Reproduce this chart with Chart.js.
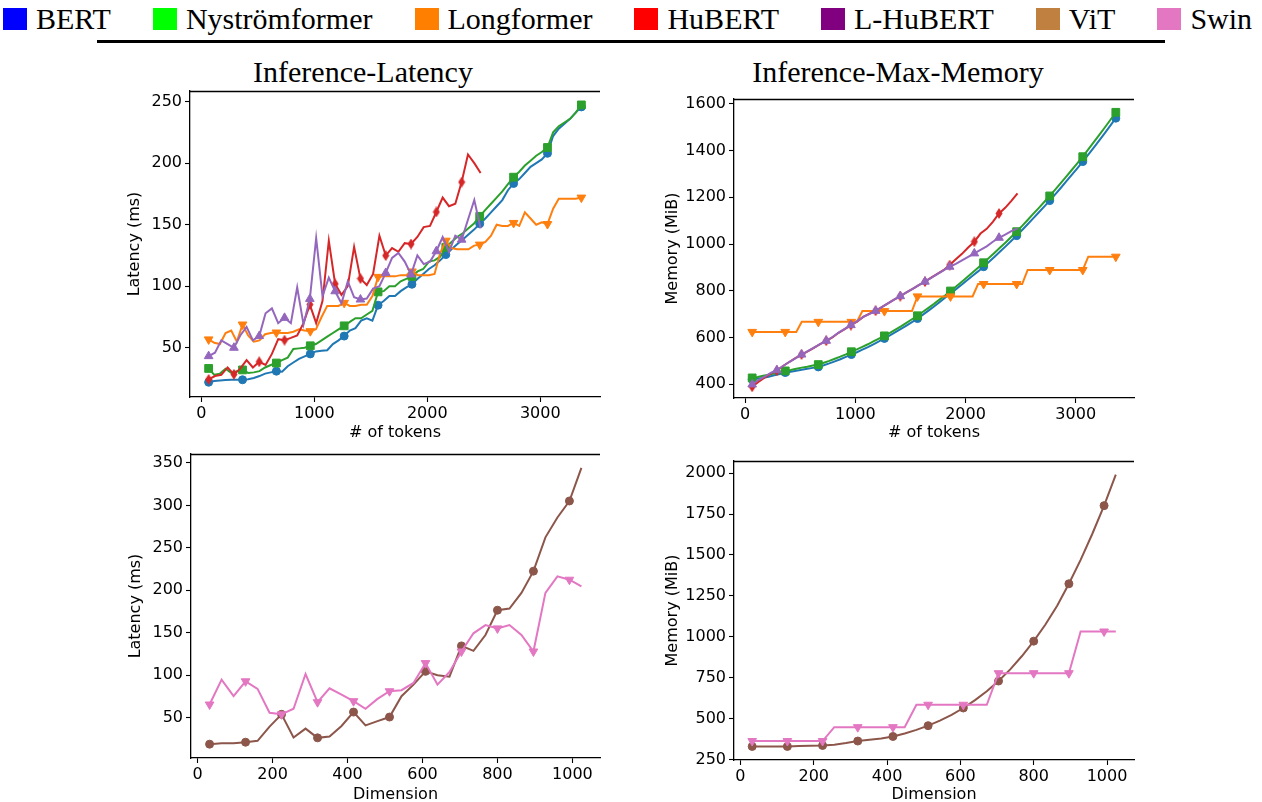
<!DOCTYPE html>
<html>
<head>
<meta charset="utf-8">
<script src="https://cdn.jsdelivr.net/npm/chart.js@4.4.1/dist/chart.umd.min.js"></script>
<style>
  body { margin: 0; width: 1262px; height: 802px; background: #fff; position: relative; overflow: hidden;
         font-family: "Liberation Serif", "Times New Roman", serif; color: #000; }
  #legend { position: absolute; left: 3px; top: 4px; display: flex; gap: 42px; }
  .item { display: flex; align-items: center; }
  .sw { width: 24px; height: 22px; margin-right: 9px; }
  .lt { font-size: 30px; line-height: 30px; white-space: nowrap; }
  .rule { position: absolute; left: 97px; top: 40px; width: 1068px; height: 3px; background: #000; }
  .ttl { position: absolute; font-size: 30px; line-height: 30px; white-space: nowrap; transform: translateX(-50%); }
  canvas { position: absolute; }
</style>
</head>
<body>
<div id="legend"></div>
<div class="rule"></div>
<div class="ttl" style="left:363px; top:57px;">Inference-Latency</div>
<div class="ttl" style="left:898px; top:57px;">Inference-Max-Memory</div>
<canvas id="latText"></canvas>
<canvas id="memText"></canvas>
<canvas id="latVision"></canvas>
<canvas id="memVision"></canvas>
<script>
// --- DATA ---
const legendNames = ['BERT', 'Nyströmformer', 'Longformer', 'HuBERT', 'L-HuBERT', 'ViT', 'Swin'];
const legendColors = ['#0000ff', '#00ff00', '#ff8000', '#ff0000', '#800080', '#c08040', '#e377c2'];

const textTokens = [64, 114, 164, 214, 264, 314, 364, 414, 464, 514, 564, 614, 664, 714, 764, 814, 864, 914, 964, 1014,
  1064, 1114, 1164, 1214, 1264, 1314, 1364, 1414, 1464, 1514, 1564, 1614, 1664, 1714, 1764, 1814, 1864, 1914, 1964, 2014,
  2064, 2114, 2164, 2214, 2264, 2314, 2364, 2414, 2464, 2514, 2564, 2614, 2664, 2714, 2764, 2814, 2864, 2914, 2964, 3014,
  3064, 3114, 3164, 3214, 3264, 3314, 3364];
const audioTokens = [64, 120, 176, 232, 288, 344, 400, 456, 512, 568, 624, 680, 736, 792, 848, 904, 960, 1016, 1072, 1128,
  1184, 1240, 1296, 1352, 1408, 1464, 1520, 1576, 1632, 1688, 1744, 1800, 1856, 1912, 1968, 2024, 2080, 2136, 2192, 2248,
  2304, 2360, 2416, 2472];
const dims = [32, 64, 96, 128, 160, 192, 224, 256, 288, 320, 352, 384, 416, 448, 480, 512, 544, 576, 608, 640,
  672, 704, 736, 768, 800, 832, 864, 896, 928, 960, 992, 1024];

const bertLatency = [22, 23, 23.5, 23.8, 24, 24, 24, 24.5, 25.5, 27, 29, 30, 31, 30.5, 35, 38, 41, 43, 45, 47,
  47.5, 48, 53, 56, 59.5, 64, 66, 72, 74, 72, 84.6, 88, 92, 92, 96, 99, 101.6, 106, 110, 114,
  117, 121, 125.7, 130, 134, 138, 142, 146, 150.8, 155, 160, 165, 170, 178, 183.5, 187, 192, 197, 200, 203,
  208, 222, 228, 232, 236, 241, 245.7];
const nystromLatency = [33.2, 28, 29, 33, 29.5, 31, 32, 29.5, 30, 31, 34, 36, 37.6, 40, 42, 49, 49.5, 50, 51.6, 53,
  56, 59, 62, 65, 67.8, 71, 74, 74, 77, 80, 95.4, 96, 100, 100, 104, 106, 108, 112, 114, 120,
  121, 124, 131.6, 136, 140, 143, 147, 151, 156.8, 162, 167, 172, 177, 183, 188.6, 193, 198, 202, 206, 209,
  212.7, 225, 230, 233, 236, 241, 247.3];
const longformerLatency = [56.8, 54, 53, 62, 64, 55, 68.9, 60, 55, 56, 61, 62, 62.4, 62, 62, 63, 65, 64, 63.5, 65,
  75, 84, 84, 84, 86.5, 84, 84, 85, 85, 92, 107.6, 108, 108, 108, 109, 109, 112, 109, 109, 109,
  110, 127, 137, 131, 130, 130, 130, 133, 133.8, 136, 141, 150, 149, 149, 151.4, 149, 160, 155, 150, 152,
  150.5, 163, 171, 171, 171, 171, 172];
const hubertLatency = [24.3, 27, 28, 34, 28.4, 33, 40, 34, 38.6, 36, 45, 57, 56.2, 58, 60, 70, 85.1, 70, 88, 137,
  101.9, 93, 100, 132, 106.2, 101, 110, 141, 124.9, 131, 128, 135, 134.3, 140, 148, 149, 160.3, 172, 165, 167,
  184.6, 207, 200, 192];
const lhubertLatency = [43.2, 46, 56, 53, 50, 60, 67, 56, 59.5, 78, 82, 70, 74.3, 70, 99, 69, 89.7, 139, 92, 107,
  95.9, 86, 104, 91, 89.2, 90, 98, 100, 110.8, 123, 127, 120, 109.5, 125, 118, 120, 128.4, 140, 128, 141,
  137.8, 154, 170, 147];

const bertMemory = [421, 424, 428, 432, 438, 444, 450, 453, 458, 462, 466, 470, 474, 481, 489, 498, 507, 517, 527, 537,
  548, 559, 571, 583, 596, 609, 623, 637, 651, 666, 681, 698, 715, 733, 751, 770, 789, 807, 826, 845,
  864, 883, 903, 924, 946, 968, 990, 1013, 1036, 1060, 1085, 1110, 1135, 1160, 1186, 1213, 1240, 1268, 1296, 1324,
  1353, 1383, 1413, 1444, 1475, 1507, 1539];
const nystromMemory = [427, 431, 436, 441, 446, 452, 457, 461, 466, 471, 475, 480, 484, 492, 500, 509, 518, 528, 539, 549,
  560, 571, 583, 595, 607, 620, 634, 648, 663, 678, 693, 710, 727, 744, 762, 780, 799, 818, 838, 858,
  878, 899, 920, 941, 963, 985, 1007, 1030, 1053, 1078, 1103, 1129, 1154, 1180, 1206, 1233, 1261, 1289, 1317, 1345,
  1374, 1405, 1436, 1467, 1499, 1531, 1564];
const longformerMemory = [624, 624, 624, 624, 624, 624, 624, 624, 624,
  667, 667, 667, 667, 667, 667, 667, 667, 667, 667, 667,
  713, 713, 713, 713, 713, 713, 713, 713, 713, 713,
  776, 776, 776, 776, 776, 776, 776, 776, 776, 776, 776,
  829, 829, 829, 829, 829, 829, 829, 829, 829,
  889, 889, 889, 889, 889, 889, 889, 889, 889, 889, 889,
  946, 946, 946, 946, 946, 946];
const hubertMemory = [389, 410, 428, 445, 458, 478, 495, 512, 527, 541, 556, 572, 586, 600, 620, 636, 653, 668, 688, 702,
  714, 730, 746, 762, 777, 793, 808, 824, 839, 856, 872, 888, 910, 935, 958, 985, 1010, 1045, 1065, 1095,
  1131, 1155, 1185, 1217];
const lhubertMemory = [399, 418, 432, 448, 460, 478, 495, 511, 527, 542, 557, 572, 586, 602, 621, 637, 653, 670, 688, 700,
  714, 730, 746, 762, 777, 793, 808, 824, 839, 855, 871, 887, 903, 915, 930, 945, 960, 975, 990, 1010,
  1027, 1040, 1055, 1067];

const vitLatency = [18.9, 20, 20, 21.2, 22.8, 39.5, 54, 26.7, 37.2, 26.3, 27.8, 40.3, 56.7, 41, 46, 50.8, 75.4, 89, 104.6, 100,
  98.3, 134.6, 128.7, 147.4, 176.6, 178.6, 197, 222.6, 262.4, 285.7, 305.2, 344.2];
const swinLatency = [65.6, 94.8, 75.4, 92.9, 84, 55.9, 54, 60.6, 101.5, 68.3, 84.7, 77.3, 69.5, 60.6, 72.2, 81.2, 82.4, 91, 114.3, 89,
  103.8, 128, 149.4, 159.1, 155.2, 159.1, 147.4, 128, 197, 216.4, 212.5, 204.7];
const vitMemory = [329, 329, 329, 329, 331, 333, 335, 340, 350, 362, 370, 378, 390, 408, 430, 456, 487, 522, 564, 612,
  667, 729, 800, 882, 973, 1075, 1190, 1324, 1470, 1630, 1802, 1992];
const swinMemory = [362, 362, 362, 362, 362, 362, 362, 447, 447, 447, 447, 447, 447, 447,
  584, 584, 584, 584, 584, 584, 584, 777, 777, 777, 777, 777, 777, 777, 1032, 1032, 1032, 1032];

const tokenTicks = [0, 1000, 2000, 3000];
const dimTicks = [0, 200, 400, 600, 800, 1000];
const latTextTicks = [50, 100, 150, 200, 250];
const memTextTicks = [400, 600, 800, 1000, 1200, 1400, 1600];
const latVisionTicks = [50, 100, 150, 200, 250, 300, 350];
const memVisionTicks = [250, 500, 750, 1000, 1250, 1500, 1750, 2000];

// --- LEGEND ---
const legendEl = document.getElementById('legend');
legendNames.forEach((name, i) => {
    const item = document.createElement('div');
    item.className = 'item';
    item.innerHTML = `<div class="sw" style="background:${legendColors[i]}"></div><span class="lt">${name}</span>`;
    legendEl.appendChild(item);
});

// --- MARKERS ---
const C = { blue: '#1f77b4', orange: '#ff7f0e', green: '#2ca02c', red: '#d62728', purple: '#9467bd', brown: '#8c564b', pink: '#e377c2' };

const thinDiamond = document.createElement('canvas');
thinDiamond.width = 8;
thinDiamond.height = 11;
const dctx = thinDiamond.getContext('2d');
dctx.fillStyle = C.red;
dctx.beginPath();
dctx.moveTo(4, 0); dctx.lineTo(7.5, 5.5); dctx.lineTo(4, 11); dctx.lineTo(0.5, 5.5);
dctx.closePath();
dctx.fill();

const series = (label, xs, ys, color, style, radius, every, rotation = 0) => ({
    label,
    data: xs.map((x, i) => ({ x, y: ys[i] })),
    borderColor: color,
    backgroundColor: color,
    borderWidth: 2,
    tension: 0,
    pointStyle: style,
    pointRotation: rotation,
    pointRadius: ctx => (ctx.dataIndex % every === 0 ? radius : 0),
    pointBorderWidth: 1,
    pointBorderColor: color,
    pointBackgroundColor: color
});

const topSpine = {
    id: 'topSpine',
    afterDraw(chart) {
        const { ctx, chartArea: a } = chart;
        ctx.save();
        ctx.strokeStyle = '#000';
        ctx.lineWidth = 1.3;
        ctx.beginPath();
        ctx.moveTo(a.left, Math.round(a.top) + 0.5);
        ctx.lineTo(a.right, Math.round(a.top) + 0.5);
        ctx.stroke();
        ctx.restore();
    }
};

const font = { family: '"DejaVu Sans", sans-serif', size: 16 };

// --- CHARTS ---
function makePlot(id, area, yTitleX, xTitleY, xRange, yRange, xTicks, yTicks, xLabel, yLabel, datasets) {
    const canvas = document.getElementById(id);
    const left = area.l - 90, top = area.t - 8, right = area.r + 12, bottom = xTitleY + 14;
    canvas.width = right - left;
    canvas.height = bottom - top;
    canvas.style.left = left + 'px';
    canvas.style.top = top + 'px';
    canvas.style.width = (right - left) + 'px';
    canvas.style.height = (bottom - top) + 'px';

    datasets.forEach((d, i) => { d.order = datasets.length - i; });

    const axisCommon = {
        type: 'linear',
        grid: { display: true, drawOnChartArea: false, drawTicks: true, tickLength: 5, tickWidth: 1.1, tickColor: '#000' },
        border: { display: true, color: '#000', width: 1.3 },
    };

    return new Chart(canvas.getContext('2d'), {
        type: 'line',
        data: { datasets },
        plugins: [topSpine],
        options: {
            responsive: false,
            animation: false,
            layout: { padding: { left: 0, top: 8, right: 12, bottom: 0 } },
            plugins: { legend: { display: false }, tooltip: { enabled: false } },
            scales: {
                x: {
                    ...axisCommon,
                    min: xRange[0], max: xRange[1],
                    afterFit: s => { s.height = bottom - area.b; s.paddingLeft = 0; s.paddingRight = 0; },
                    afterBuildTicks: s => { s.ticks = xTicks.map(v => ({ value: v })); },
                    ticks: { color: '#000', font, padding: 2, maxRotation: 0, autoSkip: false, callback: v => String(v) },
                    title: { display: true, text: xLabel, color: '#000', font, padding: { top: 0, bottom: 4.4 } }
                },
                y: {
                    ...axisCommon,
                    min: yRange[0], max: yRange[1],
                    afterFit: s => { s.width = 90; s.paddingTop = 0; s.paddingBottom = 0; },
                    afterBuildTicks: s => { s.ticks = yTicks.map(v => ({ value: v })); },
                    ticks: { color: '#000', font, padding: 3, autoSkip: false, callback: v => String(v) },
                    title: { display: true, text: yLabel, color: '#000', font, padding: { top: yTitleX - left - 9.6, bottom: 0 } }
                }
            }
        }
    });
}

makePlot('latText', { l: 190, t: 91, r: 600, b: 397 }, 135, 433, [-101, 3529], [10, 258.6], tokenTicks, latTextTicks,
    '# of tokens', 'Latency (ms)', [
        series('BERT', textTokens, bertLatency, C.blue, 'circle', 4, 6),
        series('Nyströmformer', textTokens, nystromLatency, C.green, 'rect', 5.5, 6),
        series('Longformer', textTokens, longformerLatency, C.orange, 'triangle', 5, 6, 180),
        series('HuBERT', audioTokens, hubertLatency, C.red, thinDiamond, 4, 4),
        series('L-HuBERT', audioTokens, lhubertLatency, C.purple, 'triangle', 5, 4)
    ]);

makePlot('memText', { l: 734, t: 99, r: 1134, b: 398 }, 673, 433, [-101, 3529], [341, 1621], tokenTicks, memTextTicks,
    '# of tokens', 'Memory (MiB)', [
        series('BERT', textTokens, bertMemory, C.blue, 'circle', 4, 6),
        series('Nyströmformer', textTokens, nystromMemory, C.green, 'rect', 5.5, 6),
        series('Longformer', textTokens, longformerMemory, C.orange, 'triangle', 5, 6, 180),
        series('HuBERT', audioTokens, hubertMemory, C.red, thinDiamond, 4, 4),
        series('L-HuBERT', audioTokens, lhubertMemory, C.purple, 'triangle', 5, 4)
    ]);

makePlot('latVision', { l: 191, t: 454, r: 600, b: 758 }, 136, 795, [-17.6, 1073.6], [2.6, 360.5], dimTicks, latVisionTicks,
    'Dimension', 'Latency (ms)', [
        series('ViT', dims, vitLatency, C.brown, 'circle', 4, 3),
        series('Swin', dims, swinLatency, C.pink, 'triangle', 5, 3, 180)
    ]);

makePlot('memVision', { l: 734, t: 461, r: 1134, b: 760 }, 673, 795, [-17.6, 1073.6], [246, 2075], dimTicks, memVisionTicks,
    'Dimension', 'Memory (MiB)', [
        series('ViT', dims, vitMemory, C.brown, 'circle', 4, 3),
        series('Swin', dims, swinMemory, C.pink, 'triangle', 5, 3, 180)
    ]);
</script>
</body>
</html>
